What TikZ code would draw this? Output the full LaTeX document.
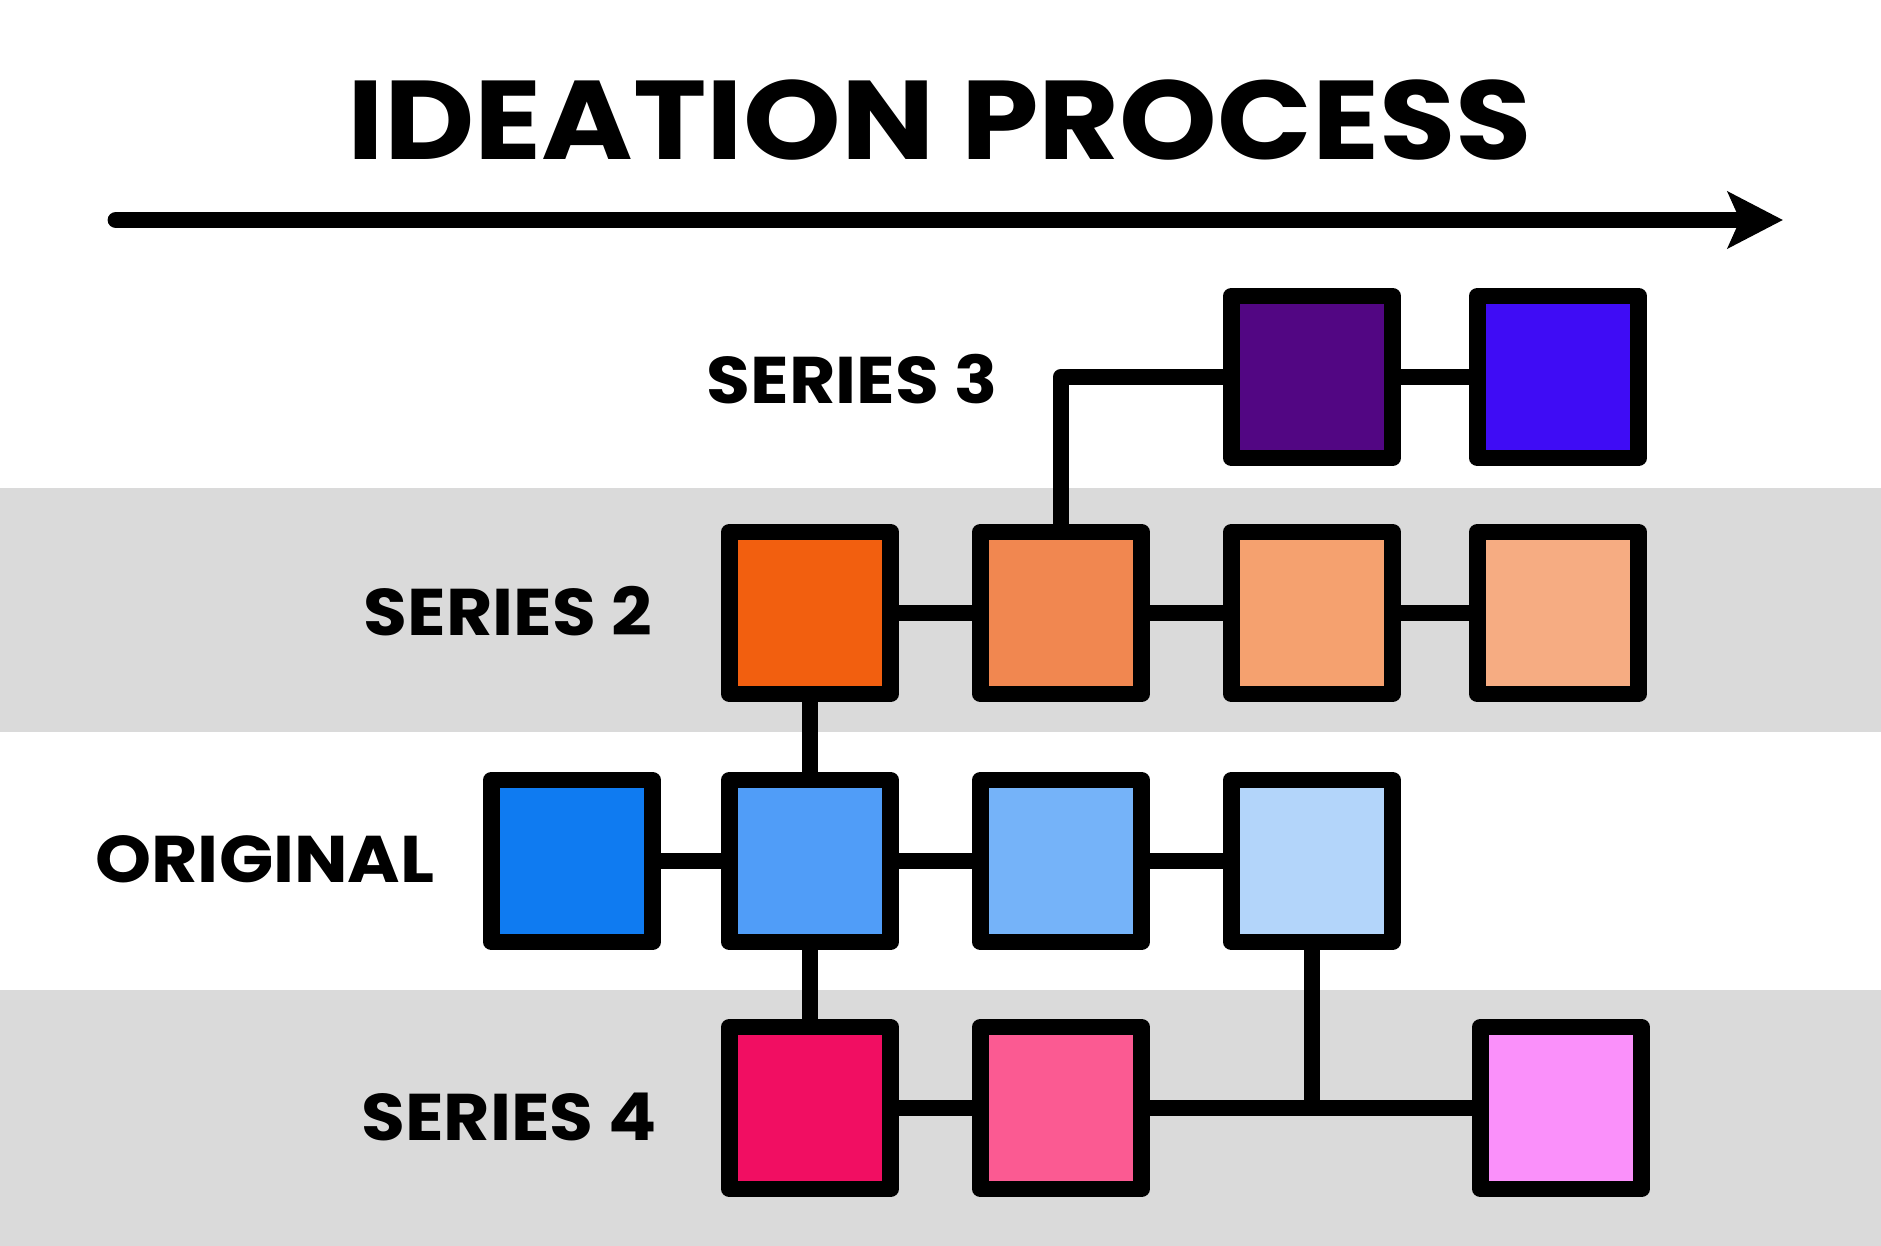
\documentclass[tikz,border=0pt]{standalone}
\usepackage{fontspec}
\setmainfont{Poppins}
\usepackage{xcolor}
\usetikzlibrary{arrows.meta}
\definecolor{band}{HTML}{DADADA}
\definecolor{sthreea}{HTML}{520683}
\definecolor{sthreeb}{HTML}{3F0CF5}
\definecolor{stwoa}{HTML}{F25F0F}
\definecolor{stwob}{HTML}{F18750}
\definecolor{stwoc}{HTML}{F5A16F}
\definecolor{stwod}{HTML}{F6AC82}
\definecolor{origa}{HTML}{0F7BF1}
\definecolor{origb}{HTML}{509DF8}
\definecolor{origc}{HTML}{75B3F9}
\definecolor{origd}{HTML}{B3D5FA}
\definecolor{sfoura}{HTML}{F10E62}
\definecolor{sfourb}{HTML}{FB5A92}
\definecolor{sfourc}{HTML}{FA90FA}
\newcommand{\rowlabel}[1]{\scalebox{1.08}[1]{#1}}

\begin{document}
\begin{tikzpicture}[x=0.5pt,y=-0.5pt,every node/.style={font=\bfseries}]
      \tikzstyle{card}=[draw=black,line width=8.4pt,line join=round,
                        minimum width=80.5pt,minimum height=81pt,inner sep=0pt];
      \tikzstyle{link}=[draw=black,line width=8.4pt];
      \tikzstyle{row}=[font=\fontsize{33}{33}\bfseries\selectfont,anchor=center];
      \useasboundingbox (0,0) rectangle (1881,1246);
      \fill[band] (0,488) rectangle (1881,732);
      \fill[band] (0,990) rectangle (1881,1246);
      \node (title) at (940,120) {\fontsize{56}{56}\selectfont\scalebox{1.11}[1]{IDEATION PROCESS}};
      \coordinate (tl) at (116,220);
      \coordinate (tr) at (1783,220);
      \draw[line width=8.4pt,line cap=round,
            -{Stealth[length=27.5pt,width=28pt,inset=6pt]}] (tl) -- (tr);
      \node[row] (lab3) at (852,379)  {\rowlabel{SERIES 3}};
      \node[row] (lab2) at (508,611)  {\rowlabel{SERIES 2}};
      \node[row] (lab0) at (265,859)  {\rowlabel{ORIGINAL}};
      \node[row] (lab4) at (509,1117) {\rowlabel{SERIES 4}};
      \node[card,fill=sthreea] (s3a) at (1312,377) {};
      \node[card,fill=sthreeb] (s3b) at (1558,377) {};
      \node[card,fill=stwoa] (s2a) at (810,613) {};
      \node[card,fill=stwob] (s2b) at (1061,613) {};
      \node[card,fill=stwoc] (s2c) at (1312,613) {};
      \node[card,fill=stwod] (s2d) at (1558,613) {};
      \node[card,fill=origa] (o1) at (572,861) {};
      \node[card,fill=origb] (o2) at (810,861) {};
      \node[card,fill=origc] (o3) at (1061,861) {};
      \node[card,fill=origd] (o4) at (1312,861) {};
      \node[card,fill=sfoura] (s4a) at (810,1108) {};
      \node[card,fill=sfourb] (s4b) at (1061,1108) {};
      \node[card,fill=sfourc] (s4c) at (1561,1108) {};
      \coordinate (join) at (o4 |- s4b);
      \draw[link] (s3a.east) -- (s3b.west);
      \draw[link] (s2a.east) -- (s2b.west);
      \draw[link] (s2b.east) -- (s2c.west);
      \draw[link] (s2c.east) -- (s2d.west);
      \draw[link,line join=round] (s2b.north) |- (s3a.west);
      \draw[link] (o1.east) -- (o2.west);
      \draw[link] (o2.east) -- (o3.west);
      \draw[link] (o3.east) -- (o4.west);
      \draw[link] (s2a.south) -- (o2.north);
      \draw[link] (o2.south) -- (s4a.north);
      \draw[link] (s4a.east) -- (s4b.west);
      \draw[link] (s4b.east) -- (s4c.west);
      \draw[link] (o4.south) -- (join);
    \end{tikzpicture}
\end{document}
